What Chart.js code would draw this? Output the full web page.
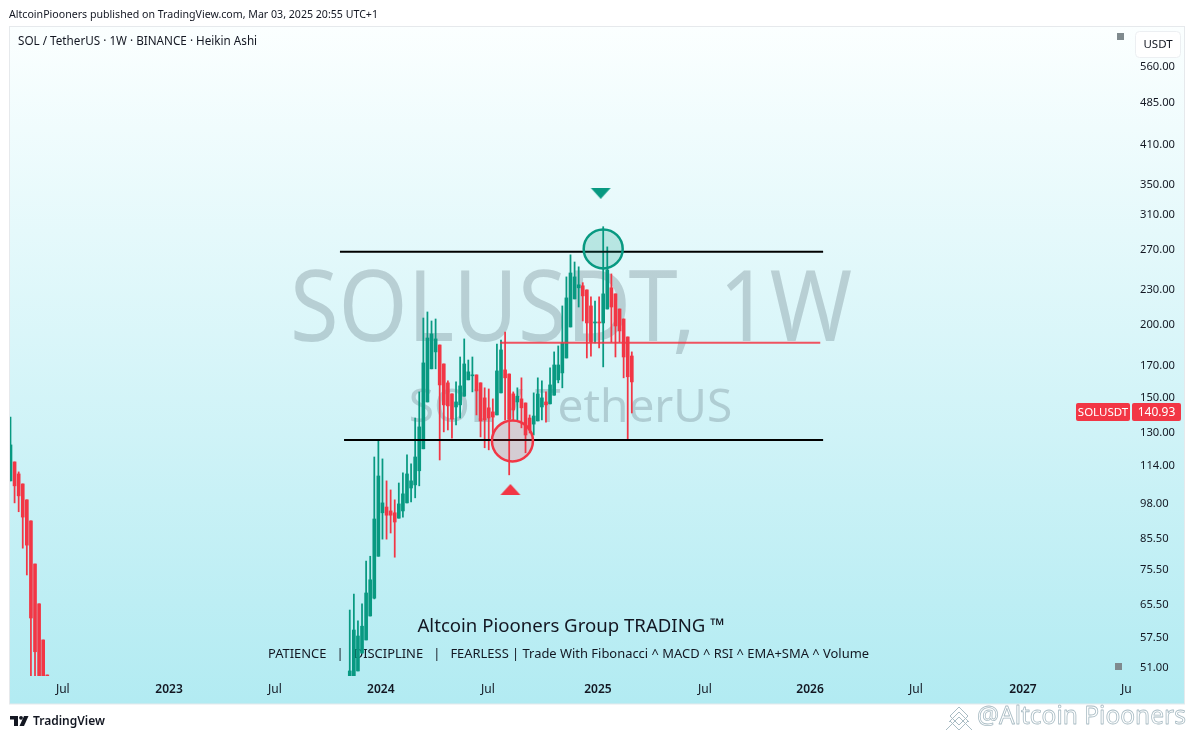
<!DOCTYPE html>
<html><head><meta charset="utf-8">
<style>html,body{margin:0;padding:0;background:#fff}canvas{display:block}</style>
<script src="https://cdn.jsdelivr.net/npm/chart.js@4"></script>
</head><body>
<canvas id="c" width="1195" height="739"></canvas>
<script>
// week slots on the time axis
const weeks =  [0,1,2,3,4,5,6,7,8,9,
  83,84,85,86,87,88,89,90,91,92,93,94,95,96,97,98,99,100,101,102,103,104,105,106,107,108,109,110,111,112,113,114,115,116,117,118,119,120,
  121,122,123,124,125,126,127,128,129,130,131,132,133,134,135,136,137,138,139,140,141,142,143,144,145,146,147,148,149,150,151,152];
const opens =  [107.1,115.5,110.1,105.8,99.3,91.3,76.9,65.6,56.8,49.4,
  45,45,50.2,53.9,56.8,62.5,67.1,79.3,94.3,96.5,95.0,94.3,92.3,95.0,98.1,104.1,105.4,111.5,121.7,146.7,167.4,179.1,184.1,170.7,158.3,151.5,143.8,145.0,150.1,160.2,162.8,163.4,158.3,149.1,143.3,141.0,139.3,152.1,
  166.7,164.0,151.5,146.7,148.5,146.1,137.6,134.3,136.0,143.8,146.7,145.6,150.7,160.2,164.7,174.8,197.8,221.2,231.2,233.1,229.3,215.1,201.0,201.8,201.0,212.5,231.2,225.7,212.5,204.2,190.1,176.2];
const closes = [123.6,105.0,100.9,92.7,82.9,62.0,54.2,45,45,45,
  50.2,59.1,57.7,60.0,68.5,72.2,92.0,109.2,98.1,93.4,93.4,90.9,97.7,101.7,110.1,107.1,117.8,132.8,171.4,189.3,192.4,188.6,157.0,145.0,144.4,137.0,146.7,156.4,170.7,165.4,163.4,153.3,136.0,136.5,137.6,138.1,166.0,180.5,
  161.5,137.0,142.1,150.1,143.3,128.6,131.2,138.7,151.5,149.1,145.0,157.0,170.0,170.0,185.6,222.1,245.3,241.5,234.0,223.9,201.0,186.3,201.8,201.0,225.7,248.3,214.2,198.6,194.7,175.5,162.2,158.9];
const highs =  [138.1,115.5,111.0,105.8,99.3,91.3,76.9,65.6,56.8,49.4,
  64.0,68.2,61.3,65.6,77.8,79.3,117.8,126.1,116.9,107.1,103.3,99.3,106.2,110.6,118.8,114.6,137.6,152.7,205.0,210.0,202.6,204.2,184.1,170.7,159.6,151.5,159.0,175.5,188.6,173.4,175.5,163.4,158.3,155.2,154.5,148.5,184.8,187.8,
  193.9,164.0,152.7,155.2,161.5,146.1,139.3,152.1,161.5,159.6,152.7,168.0,179.1,183.4,215.1,241.5,263.7,256.3,251.4,236.0,229.3,223.0,219.4,223.0,295.0,272.2,244.4,225.7,212.5,204.2,190.1,179.1];
const lows =   [107.1,98.1,94.7,81.9,73.6,45,45,45,45,45,
  45,45,50.2,53.9,56.8,62.5,66.9,79.3,84.9,84.9,87.0,79.0,92.3,92.7,98.1,98.5,100.1,105.0,121.7,146.7,167.4,167.4,116.4,130.2,131.2,127.0,133.9,137.6,150.1,160.2,152.7,139.3,127.6,122.2,121.2,129.6,139.3,152.1,
  136.5,109.7,136.5,136.5,132.3,119.8,129.6,128.6,136.0,136.5,135.4,145.6,150.7,158.3,155.2,174.8,197.8,221.2,214.2,202.6,174.8,176.0,185.6,181.9,168.7,212.5,186.3,175.5,186.3,161.5,126.1,140.4];

const priceTicks = [560,485,410,350,310,270,230,200,170,150,130,114,98,85.5,75.5,65.5,57.5,51];
const timeTickWeeks = [12.8,38.8,64.7,90.6,116.8,143.7,169.9,195.6,221.5,247.7,273];
const timeTickLabels = ['Jul','2023','Jul','2024','Jul','2025','Jul','2026','Jul','2027','Ju'];

const resistanceLevel = 266.9, supportLevel = 126.1, midLevel = 185.8;
const resistanceSpan = [80.6,198.8], supportSpan = [81.6,198.8], midSpan = [119.8,198.1];
const topCircle = [145.0,270], bottomCircle = [122.8,125.6];
const topArrow = [144.4,337], bottomArrow = [122.3,103.5];
const lastPrice = 140.93;

const UP = '#089981', DOWN = '#f23645';
const FONT = '"Noto Sans", sans-serif';

function tri(down, color){
  const k = document.createElement('canvas'); k.width = 22; k.height = 11;
  const g = k.getContext('2d'); g.fillStyle = color; g.beginPath();
  if(down){g.moveTo(1,0);g.lineTo(21,0);g.lineTo(11,11);}else{g.moveTo(1,11);g.lineTo(21,11);g.lineTo(11,0);}
  g.closePath(); g.fill(); return k;
}
const colors = weeks.map((w,i)=> closes[i] >= opens[i] ? UP : DOWN);

function text(ctx,s,x,y,font,color,align,maxW){
  ctx.font = font; ctx.fillStyle = color; ctx.textAlign = align||'left'; ctx.textBaseline = 'middle';
  if(maxW) ctx.fillText(s,x,y,maxW); else ctx.fillText(s,x,y);
}
const backdrop = {
  id:'backdrop',
  beforeDraw(ch){
    const c = ch.ctx; c.save();
    c.fillStyle = '#fff'; c.fillRect(0,0,1195,739);
    const g = c.createLinearGradient(0,27,0,704);
    g.addColorStop(0,'#fbffff'); g.addColorStop(1,'#b2ebf2');
    c.fillStyle = g; c.fillRect(10,27,1175,677);
    c.strokeStyle = '#e6e9ec'; c.lineWidth = 1; c.strokeRect(9.5,26.5,1175,677.5);
    text(c,'AltcoinPiooners published on TradingView.com, Mar 03, 2025 20:55 UTC+1',9,14.5,'11px '+FONT,'#131722','left',369);
    text(c,'SOL / TetherUS · 1W · BINANCE · Heikin Ashi',18,42,'11.7px '+FONT,'#131722');
    c.restore();
  },
  beforeDatasetsDraw(ch){
    const c = ch.ctx; c.save();
    const a = ch.chartArea; c.beginPath(); c.rect(a.left,a.top,a.right-a.left,a.bottom-a.top); c.clip();
    text(c,'SOLUSDT, 1W',571,313,'98px '+FONT,'rgba(95,115,125,0.3)','center',562);
    text(c,'SOL / TetherUS',570.5,409,'46px '+FONT,'rgba(95,115,125,0.3)','center');
    text(c,'Altcoin Piooners Group TRADING ™',571,627,'18.6px '+FONT,'#131722','center');
    text(c,'PATIENCE   |   DISCIPLINE   |   FEARLESS | Trade With Fibonacci ^ MACD ^ RSI ^ EMA+SMA ^ Volume',568.5,654,'13px '+FONT,'#131722','center',601);
    c.restore();
  },
  afterDraw(ch){
    const c = ch.ctx; c.save();
    const y = Math.round(ch.scales.y.getPixelForValue(lastPrice));
    c.fillStyle = DOWN;
    c.beginPath(); c.roundRect(1076,y-9,54,18,2); c.fill();
    c.beginPath(); c.roundRect(1132,y-9,49,18,2); c.fill();
    text(c,'SOLUSDT',1103,y+0.5,'11.5px '+FONT,'#fff','center');
    text(c,String(lastPrice.toFixed(2)),1156.5,y+0.5,'12px '+FONT,'#fff','center');
    // currency button
    c.fillStyle = '#fff'; c.strokeStyle = '#eceff2'; c.lineWidth = 1;
    c.beginPath(); c.roundRect(1135.5,31.5,45,26,4); c.fill(); c.stroke();
    text(c,'USDT',1158,45,'11.5px '+FONT,'#131722','center');
    // small square marks
    c.fillStyle = '#7f8a8e';
    c.fillRect(1117,33,7,7); c.fillRect(1115,663,7,7);
    // footer logo
    c.fillStyle = '#131722';
    c.fillRect(10,716,8,3.5); c.fillRect(14,716,4,10);
    c.beginPath(); c.arc(21,717.8,1.9,0,7); c.fill();
    c.beginPath(); c.moveTo(24,716); c.lineTo(28.5,716); c.lineTo(24,726); c.lineTo(19.5,726); c.closePath(); c.fill();
    text(c,'TradingView',33,721.5,'600 12px '+FONT,'#131722');
    // image-host mark
    c.lineJoin = 'round'; c.strokeStyle = '#a9bcc4'; c.lineWidth = 1;
    [[707,9],[712,10],[717,13]].forEach(([t,w])=>{
      c.beginPath(); c.moveTo(959-w,t+w); c.lineTo(959,t); c.lineTo(959+w,t+w); c.stroke();
    });
    [[716,9],[721,9]].forEach(([t,w])=>{
      c.beginPath(); c.moveTo(959-w,t); c.lineTo(959,t+w); c.lineTo(959+w,t); c.stroke();
    });
    c.font = '24.5px '+FONT; c.textAlign = 'left'; c.textBaseline = 'middle';
    c.fillStyle = 'rgba(255,255,255,0.9)'; c.fillText('@Altcoin Piooners',977,717);
    c.strokeStyle = '#a9bcc4'; c.lineWidth = 0.8; c.strokeText('@Altcoin Piooners',977,717);
    c.restore();
  }
};

new Chart(document.getElementById('c'),{
  type:'bar',
  data:{datasets:[
    {type:'scatter',order:1,data:[{x:topCircle[0],y:topCircle[1]}],pointRadius:19.5,pointHoverRadius:19.5,pointBackgroundColor:'rgba(8,153,129,0.2)',pointBorderColor:UP,pointBorderWidth:2.5,clip:false},
    {type:'scatter',order:1,data:[{x:bottomCircle[0],y:bottomCircle[1]}],pointRadius:20.5,pointHoverRadius:20.5,pointBackgroundColor:'rgba(242,54,69,0.2)',pointBorderColor:DOWN,pointBorderWidth:2.5,clip:false},
    {type:'scatter',order:1,data:[{x:topArrow[0],y:topArrow[1]}],pointStyle:tri(true,UP)},
    {type:'scatter',order:1,data:[{x:bottomArrow[0],y:bottomArrow[1]}],pointStyle:tri(false,DOWN)},
    {type:'line',order:2,data:resistanceSpan.map(x=>({x,y:resistanceLevel})),borderColor:'#000',borderWidth:2,pointRadius:0},
    {type:'line',order:2,data:supportSpan.map(x=>({x,y:supportLevel})),borderColor:'#000',borderWidth:2,pointRadius:0},
    {type:'line',order:2,data:midSpan.map(x=>({x,y:midLevel})),borderColor:'rgba(242,54,69,0.85)',borderWidth:2,pointRadius:0},
    {order:3,grouped:false,barThickness:3,minBarLength:1,backgroundColor:colors,data:weeks.map((x,i)=>({x,y:[opens[i],closes[i]]}))},
    {order:4,grouped:false,barThickness:1.1,backgroundColor:colors,data:weeks.map((x,i)=>({x,y:[lows[i],highs[i]]}))}
  ]},
  options:{
    responsive:false,animation:false,devicePixelRatio:1,
    layout:{autoPadding:false,padding:{left:10,top:27,right:11,bottom:35}},
    plugins:{legend:{display:false},tooltip:{enabled:false},title:{display:false}},
    scales:{
      x:{type:'linear',bounds:'data',offset:false,min:-0.12,max:275.1,
        grid:{display:false,drawTicks:false},border:{display:false},
        afterBuildTicks(s){s.ticks = timeTickWeeks.map(value=>({value}));},
        afterFit(s){s.height = 28; s.paddingLeft = 0; s.paddingRight = 0;},
        ticks:{autoSkip:false,maxRotation:0,padding:6,color:'#131722',
          font(ctx){const l = timeTickLabels[timeTickWeeks.indexOf(ctx.tick?ctx.tick.value:-1)];
            return {family:FONT,size:12,weight:/^\d/.test(l||'')?'600':'400'};},
          callback(v){return timeTickLabels[timeTickWeeks.indexOf(v)];}}},
      y:{type:'logarithmic',position:'right',bounds:'data',min:49.2,max:654,
        grid:{display:false,drawTicks:false},border:{display:false},
        afterBuildTicks(s){s.ticks = priceTicks.map(value=>({value}));},
        afterFit(s){s.width = 49; s.paddingTop = 0; s.paddingBottom = 0;},
        ticks:{autoSkip:false,padding:5,crossAlign:'near',labelOffset:1,color:'#131722',font:{family:FONT,size:11.2},
          callback(v){return Number(v).toFixed(2);}}}
    }
  },
  plugins:[backdrop]
});
</script>
</body></html>
